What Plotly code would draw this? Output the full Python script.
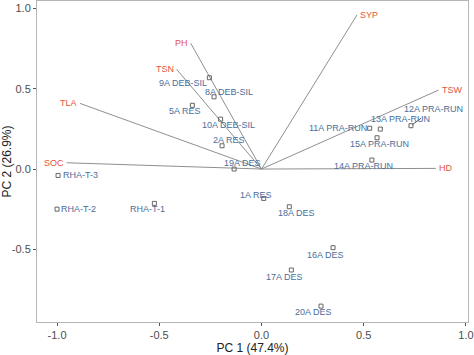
import plotly.graph_objects as go

# Variable loadings (arrow end points)
var_names = ["SYP", "PH", "TSN", "TLA", "SOC", "TSW", "HD"]
var_pc1 = [0.467, -0.346, -0.415, -0.888, -0.953, 0.866, 0.853]
var_pc2 = [0.960, 0.783, 0.621, 0.409, 0.039, 0.492, 0.004]

# Sample scores
samp_names = ["9A DEB-SIL", "8A DEB-SIL", "5A RES", "10A DEB-SIL", "2A RES", "19A DES",
              "RHA-T-3", "RHA-T-2", "RHA-T-1", "1A RES", "18A DES", "16A DES",
              "17A DES", "20A DES", "11A PRA-RUN", "13A PRA-RUN", "12A PRA-RUN",
              "15A PRA-RUN", "14A PRA-RUN"]
samp_pc1 = [-0.255, -0.232, -0.338, -0.200, -0.193, -0.134,
            -0.995, -1.000, -0.524, 0.011, 0.136, 0.350,
            0.146, 0.291, 0.529, 0.581, 0.731, 0.565, 0.540]
samp_pc2 = [0.569, 0.450, 0.397, 0.311, 0.145, 0.000,
            -0.040, -0.250, -0.214, -0.183, -0.235, -0.490,
            -0.629, -0.854, 0.254, 0.249, 0.270, 0.195, 0.056]

# label offsets in pixels (dx, dy up positive) -- styling
samp_off = [(-26, -5), (15, 5), (-7, -6), (8, -6), (7, 6), (8, 6),
            (22, 0), (21, 0), (-7, -6), (-8, 3), (7, -6), (-8, -7),
            (-7, -7), (-7, -6), (-32, 0), (20, 10), (23, 17), (2, -6), (-8, -6)]
samp_seg = [False] * 15 + [True, True, False, False]
var_anchor = ["left", "right", "right", "right", "right", "left", "left"]

RED = "#E5553A"
BLUE = "#4A6E9B"
GRAY = "#8f8f8f"
FONT = "Liberation Sans, Arial, sans-serif"

fig = go.Figure()

for n, x, y in zip(var_names, var_pc1, var_pc2):
    fig.add_trace(go.Scatter(x=[0, x], y=[0, y], mode="lines",
                             line=dict(color=GRAY, width=1), showlegend=False,
                             hoverinfo="skip"))

fig.add_trace(go.Scatter(x=samp_pc1, y=samp_pc2, mode="markers",
                         marker=dict(symbol="square-open", size=4,
                                     color="#666666", line=dict(width=1)),
                         showlegend=False))

annotations = []
for n, x, y, a in zip(var_names, var_pc1, var_pc2, var_anchor):
    annotations.append(dict(x=x, y=y, xref="x", yref="y", text=n, showarrow=False,
                            xanchor=a, yanchor="middle", xshift=1 if a == "left" else -1,
                            font=dict(family=FONT, size=9, color=RED)))

for n, x, y, (dx, dy), seg in zip(samp_names, samp_pc1, samp_pc2, samp_off, samp_seg):
    if seg:
        annotations.append(dict(x=x, y=y, xref="x", yref="y", text=n, showarrow=True,
                                arrowhead=0, arrowwidth=1, arrowcolor="#555555",
                                ax=dx, ay=-dy, standoff=2, startstandoff=5,
                                font=dict(family=FONT, size=9, color=BLUE)))
    else:
        annotations.append(dict(x=x, y=y, xref="x", yref="y", text=n, showarrow=False,
                                xshift=dx, yshift=dy,
                                font=dict(family=FONT, size=9, color=BLUE)))

axis_common = dict(showgrid=False, zeroline=False, showline=True, mirror=True,
                   linecolor="#b5b5b5", linewidth=1, ticks="outside", ticklen=3,
                   tickcolor="#555555", automargin=False,
                   tickfont=dict(family=FONT, size=11, color="#4d4d4d"))

fig.update_layout(
    width=474, height=355,
    margin=dict(l=37, r=6, t=1, b=33),
    plot_bgcolor="white", paper_bgcolor="white",
    annotations=annotations,
    xaxis=dict(range=[-1.098, 1.010], tickvals=[-1.0, -0.5, 0.0, 0.5, 1.0],
               ticktext=["-1.0", "-0.5", "0.0", "0.5", "1.0"],
               title=dict(text="PC 1 (47.4%)", standoff=4,
                          font=dict(family=FONT, size=12, color="#222222")),
               **axis_common),
    yaxis=dict(range=[-0.953, 1.047], tickvals=[-0.5, 0.0, 0.5, 1.0],
               ticktext=["-0.5", "0.0", "0.5", "1.0"],
               title=dict(text="PC 2 (26.9%)", standoff=4,
                          font=dict(family=FONT, size=12, color="#222222")),
               **axis_common),
)

fig.write_html("out.html", config={"displayModeBar": False},
               post_script="document.body.style.margin='0';document.body.style.overflow='hidden';")
